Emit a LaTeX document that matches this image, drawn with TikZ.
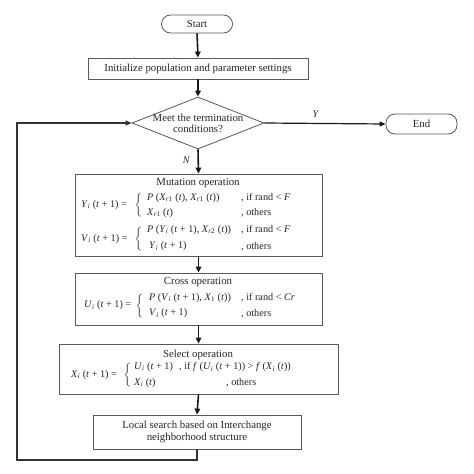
\documentclass[tikz,border=0pt]{standalone}
\usepackage{fontspec}
\setmainfont{Liberation Serif}
\usetikzlibrary{shapes.geometric,arrows.meta}
\newcommand{\sbx}[1]{\textsubscript{#1}}
\newcommand{\vv}[1]{\textit{#1}}
\newcommand{\mybrace}{$\left\{\vrule height 8.5pt depth 8.5pt width 0pt\right.$}
\begin{document}
\begin{tikzpicture}[x=1pt,y=-1pt,
  box/.style={draw=black!65,line width=0.8pt,inner sep=0pt},
  term/.style={box,rounded corners=9pt},
  txt/.style={inner sep=0pt,font=\fontsize{10.2}{11.5}\selectfont,text=black!85},
  ttl/.style={txt,font=\fontsize{10.8}{11.5}\selectfont},
  lft/.style={txt,anchor=west},
  arr/.style={line width=1.6pt,draw=black!90,-{Triangle[length=6pt,width=5.5pt]}},
  harr/.style={line width=1.2pt,draw=black!90,-{Triangle[length=6pt,width=5pt]}},
  lab/.style={txt,font=\fontsize{10}{11}\selectfont\itshape}]
\useasboundingbox (0,0) rectangle (474,474);
\fill[white] (0,0) rectangle (474,474);
% terminals and boxes
\node[term,minimum width=71pt,minimum height=18pt] (start) at (197,24) {};
\node[ttl] (starttxt) at (start.center) {Start};
\node[box,minimum width=220pt,minimum height=21pt] (init) at (198,68.5) {};
\node[ttl] (inittxt) at (init.center) {Initialize population and parameter settings};
\node[box,diamond,minimum width=132pt,minimum height=52pt] (dia) at (198,123) {};
\node[ttl,align=center] (diatxt) at (198,123.5) {Meet the termination\\conditions?};
\node[term,minimum width=71pt,minimum height=20pt] (end) at (421.5,124) {};
\node[ttl] (endtxt) at (end.center) {End};
\node[box,minimum width=247pt,minimum height=82pt] (mut) at (198.5,215) {};
\node[box,minimum width=247pt,minimum height=52pt] (cross) at (198.5,299) {};
\node[box,minimum width=279pt,minimum height=50pt] (sel) at (198.5,369) {};
\node[box,minimum width=208pt,minimum height=34pt] (loc) at (197,432) {};
\node[ttl,align=center] (loctxt) at (197,432) {Local search based on Interchange\\neighborhood structure};
% mutation contents
\node[ttl] (mt) at (198,183) {Mutation operation};
\node[lft] (my) at (81,205) {\vv{Y}\sbx{\vv{i}} (\vv{t} + 1) =};
\node[txt] (mb1) at (139,205.5) {\mybrace};
\node[lft] (m1) at (147,198) {\vv{P} (\vv{X}\sbx{\vv{r}1} (\vv{t}), \vv{X}\sbx{\vv{r}1} (\vv{t}))};
\node[lft] (m2) at (147,213) {\vv{X}\sbx{\vv{r}1} (\vv{t})};
\node[lft] (m3) at (241,198) {, if rand < \vv{F}};
\node[lft] (m4) at (241,213) {, others};
\node[lft] (mv) at (81,239) {\vv{V}\sbx{\vv{i}} (\vv{t} + 1) =};
\node[txt] (mb2) at (139,239.5) {\mybrace};
\node[lft] (m5) at (147,230) {\vv{P} (\vv{Y}\sbx{\vv{i}} (\vv{t} + 1), \vv{X}\sbx{\vv{r}2} (\vv{t}))};
\node[lft] (m6) at (149,246.5) {\vv{Y}\sbx{\vv{i}} (\vv{t} + 1)};
\node[lft] (m7) at (241,230) {, if rand < \vv{F}};
\node[lft] (m8) at (241,246.5) {, others};
% cross contents
\node[ttl] (ct) at (198,282) {Cross operation};
\node[lft] (cu) at (84,305.5) {\vv{U}\sbx{\vv{i}} (\vv{t} + 1) =};
\node[txt] (cb) at (140,306) {\mybrace};
\node[lft] (c1) at (149,298) {\vv{P} (\vv{V}\sbx{\vv{i}} (\vv{t} + 1), \vv{X}\sbx{1} (\vv{t}))};
\node[lft] (c2) at (149,313.5) {\vv{V}\sbx{\vv{i}} (\vv{t} + 1)};
\node[lft] (c3) at (241,298) {, if rand < \vv{Cr}};
\node[lft] (c4) at (241,313.5) {, others};
% select contents
\node[ttl] (st) at (198,355) {Select operation};
\node[lft] (sx) at (71,375) {\vv{X}\sbx{\vv{i}} (\vv{t} + 1) =};
\node[txt] (sb) at (128,375) {\mybrace};
\node[lft] (s1) at (134,367) {\vv{U}\sbx{\vv{i}} (\vv{t} + 1)};
\node[lft] (s2) at (134,383) {\vv{X}\sbx{\vv{i}} (\vv{t})};
\node[lft] (s3) at (179,367) {, if \vv{f} (\vv{U}\sbx{\vv{i}} (\vv{t} + 1)) > \vv{f} (\vv{X}\sbx{\vv{i}} (\vv{t}))};
\node[lft] (s4) at (226,383) {, others};
% connectors
\draw[arr] (start.south) -- (init.north);
\draw[arr] (init.south) -- (dia.north);
\draw[harr] (dia.east) -- node[lab,above=5pt,pos=0.42] (ylab) {Y} (end.west);
\draw[arr] (dia.south) -- node[lab,left=8pt,pos=0.45] (nlab) {N} (mut.north);
\draw[arr] (mut.south) -- (cross.north);
\draw[arr] (cross.south) -- (sel.north);
\draw[arr] (sel.south) -- (loc.north);
\coordinate (lb) at (17,460);
\coordinate (lt) at (17,123);
\draw[harr,draw=black!80] (loc.south) |- (lb) -- (lt) -- (dia.west);
\end{tikzpicture}
\end{document}
